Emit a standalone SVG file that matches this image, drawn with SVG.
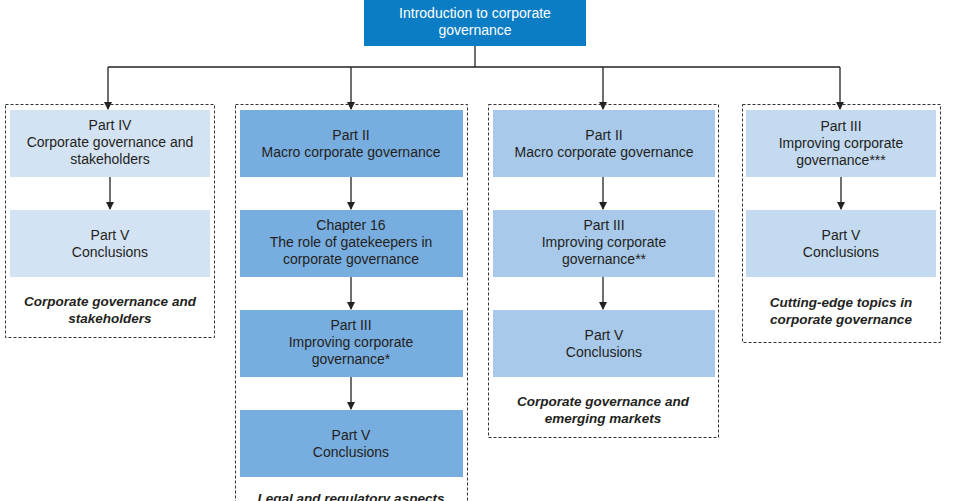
<svg xmlns="http://www.w3.org/2000/svg" width="955" height="501" viewBox="0 0 955 501">
<defs><marker id="a" markerWidth="8" markerHeight="8" refX="7" refY="4" orient="auto" markerUnits="userSpaceOnUse"><path d="M0,0 L8,4 L0,8 z" fill="#222"/></marker></defs>
<style>
text{font-family:"Liberation Sans",Arial,sans-serif;font-size:14px;fill:#231f20;text-anchor:middle}
.cap{font-weight:bold;font-style:italic;font-size:13.5px}
.dash{fill:none;stroke:#333;stroke-dasharray:3,2;stroke-width:1}
.c{stroke:#222;stroke-width:1.3;fill:none;marker-end:url(#a)}
.b1{fill:#d4e3f4}.b2{fill:#78addf}.b3{fill:#a8c9ea}.b4{fill:#c3daf1}
</style>
<rect width="955" height="501" fill="#fff"/>
<g id="top"><rect x="364" y="0" width="222" height="46" fill="#0a7dc5"/><text x="475" y="18" style="fill:#fff">Introduction to corporate</text><text x="475" y="35" style="fill:#fff">governance</text></g>
<g id="connectors">
<path d="M475,46 V67 M108,67 H840" stroke="#222" stroke-width="1.3" fill="none"/>
<path class="c" d="M108,67 V109"/><path class="c" d="M351,67 V109"/><path class="c" d="M603,67 V109"/><path class="c" d="M840,67 V109"/>
<path class="c" d="M110,177 V209"/>
<path class="c" d="M351,177 V209"/><path class="c" d="M351,277 V309"/><path class="c" d="M351,377 V409"/>
<path class="c" d="M603,177 V209"/><path class="c" d="M603,277 V309"/>
<path class="c" d="M841,177 V209"/>
</g>
<g id="col1"><rect class="dash" x="5.5" y="104.5" width="209" height="233"/>
<rect class="b1" x="10" y="110" width="200" height="67"/><text x="110" y="130">Part IV</text><text x="110" y="147">Corporate governance and</text><text x="110" y="164">stakeholders</text>
<rect class="b1" x="10" y="210" width="200" height="67"/><text x="110" y="240">Part V</text><text x="110" y="257">Conclusions</text>
<text class="cap" x="110" y="306">Corporate governance and</text><text class="cap" x="110" y="323">stakeholders</text></g>
<g id="col2"><rect class="dash" x="235.5" y="104.5" width="232" height="400"/>
<rect class="b2" x="240" y="110" width="223" height="67"/><text x="351" y="140">Part II</text><text x="351" y="157">Macro corporate governance</text>
<rect class="b2" x="240" y="210" width="223" height="67"/><text x="351" y="230">Chapter 16</text><text x="351" y="247">The role of gatekeepers in</text><text x="351" y="264">corporate governance</text>
<rect class="b2" x="240" y="310" width="223" height="67"/><text x="351" y="330">Part III</text><text x="351" y="347">Improving corporate</text><text x="351" y="364">governance*</text>
<rect class="b2" x="240" y="410" width="223" height="67"/><text x="351" y="440">Part V</text><text x="351" y="457">Conclusions</text>
<text class="cap" x="351" y="503">Legal and regulatory aspects</text></g>
<g id="col3"><rect class="dash" x="488.5" y="104.5" width="230" height="333"/>
<rect class="b3" x="493" y="110" width="222" height="67"/><text x="604" y="140">Part II</text><text x="604" y="157">Macro corporate governance</text>
<rect class="b3" x="493" y="210" width="222" height="67"/><text x="604" y="230">Part III</text><text x="604" y="247">Improving corporate</text><text x="604" y="264">governance**</text>
<rect class="b3" x="493" y="310" width="222" height="67"/><text x="604" y="340">Part V</text><text x="604" y="357">Conclusions</text>
<text class="cap" x="603" y="406">Corporate governance and</text><text class="cap" x="603" y="423">emerging markets</text></g>
<g id="col4"><rect class="dash" x="742.5" y="104.5" width="198" height="238"/>
<rect class="b4" x="746" y="110" width="190" height="67"/><text x="841" y="131">Part III</text><text x="841" y="148">Improving corporate</text><text x="841" y="165">governance***</text>
<rect class="b4" x="746" y="210" width="190" height="67"/><text x="841" y="240">Part V</text><text x="841" y="257">Conclusions</text>
<text class="cap" x="841" y="307">Cutting-edge topics in</text><text class="cap" x="841" y="324">corporate governance</text></g>
</svg>
